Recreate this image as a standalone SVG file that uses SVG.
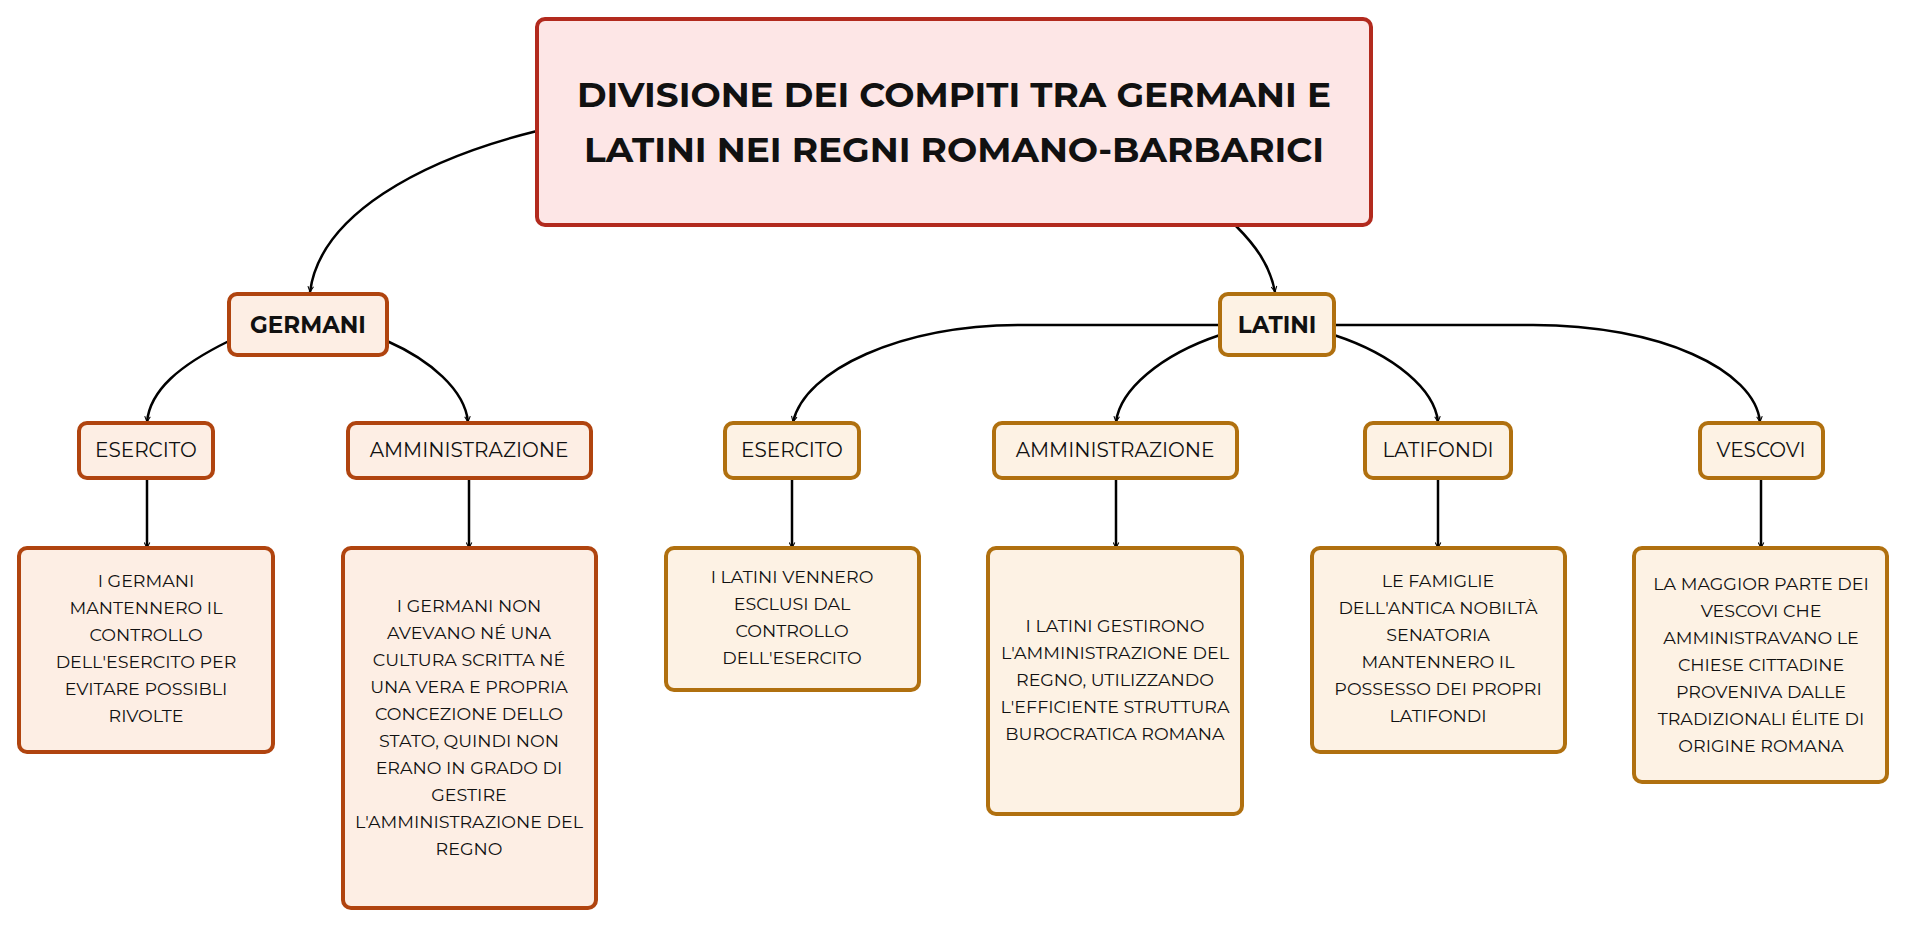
<svg xmlns="http://www.w3.org/2000/svg" width="1908" height="928" viewBox="0 0 1908 928">
<defs>
<marker id="ah" viewBox="0 0 10 10" refX="9" refY="5" markerWidth="7" markerHeight="7" orient="auto" markerUnits="userSpaceOnUse"><path d="M1,1 L9,5 L1,9" fill="none" stroke="#000" stroke-width="1.5"/></marker>
<style>
.g rect{fill:#fdeee4;stroke:#b0440f;stroke-width:4}
.l rect{fill:#fdf2e4;stroke:#b0700f;stroke-width:4}
text{font-family:"Montserrat","Open Sans","Liberation Sans",sans-serif;fill:#111;text-anchor:middle;dominant-baseline:central}
.h{font-size:23px;font-weight:bold}
.s{font-size:20px}
.t{font-size:17.5px}
#conn path{fill:none;stroke:#000;stroke-width:2.5;marker-end:url(#ah)}
</style>
</defs>
<g id="conn">
<path d="M537,131 C420,160 320,215 310,292"/>
<path d="M1236,226 C1255,245 1270,265 1275,292"/>
<path d="M229,341 C180,365 150,390 147,422"/>
<path d="M387,341 C430,360 465,390 468,422"/>
<path d="M1220,325 L1022,325 C900,325 805,370 793,422"/>
<path d="M1220,335 C1160,355 1120,390 1116,422"/>
<path d="M1334,335 C1395,355 1435,390 1438,422"/>
<path d="M1334,325 L1533,325 C1660,325 1755,370 1760,422"/>
<path d="M147,478 L147,548"/>
<path d="M469,478 L469,548"/>
<path d="M792,478 L792,548"/>
<path d="M1116,478 L1116,548"/>
<path d="M1438,478 L1438,548"/>
<path d="M1761,478 L1761,548"/>
</g>
<g id="root"><rect x="537" y="19" width="834" height="206" rx="8" fill="#fde6e6" stroke="#b22a1e" stroke-width="4"/>
<text x="954" y="95" font-size="34" font-weight="bold" textLength="754" lengthAdjust="spacingAndGlyphs">DIVISIONE DEI COMPITI TRA GERMANI E</text>
<text x="954" y="150" font-size="34" font-weight="bold" textLength="740" lengthAdjust="spacingAndGlyphs">LATINI NEI REGNI ROMANO-BARBARICI</text></g>
<g id="germani" class="g"><rect x="229" y="294" width="158" height="61" rx="8"/><text class="h" x="308" y="325">GERMANI</text></g>
<g id="latini" class="l"><rect x="1220" y="294" width="114" height="61" rx="8"/><text class="h" x="1277" y="325">LATINI</text></g>
<g id="g-eserc" class="g"><rect x="79" y="423" width="134" height="55" rx="8"/><text class="s" x="146" y="450">ESERCITO</text></g>
<g id="g-amm" class="g"><rect x="348" y="423" width="243" height="55" rx="8"/><text class="s" x="469" y="450">AMMINISTRAZIONE</text></g>
<g id="l-eserc" class="l"><rect x="725" y="423" width="134" height="55" rx="8"/><text class="s" x="792" y="450">ESERCITO</text></g>
<g id="l-amm" class="l"><rect x="994" y="423" width="243" height="55" rx="8"/><text class="s" x="1115" y="450">AMMINISTRAZIONE</text></g>
<g id="l-lat" class="l"><rect x="1365" y="423" width="146" height="55" rx="8"/><text class="s" x="1438" y="450">LATIFONDI</text></g>
<g id="l-vesc" class="l"><rect x="1700" y="423" width="123" height="55" rx="8"/><text class="s" x="1761" y="450">VESCOVI</text></g>
<g id="g1" class="g"><rect x="19" y="548" width="254" height="204" rx="8"/>
<text class="t" x="146" y="580">I GERMANI</text><text class="t" x="146" y="607">MANTENNERO IL</text><text class="t" x="146" y="634">CONTROLLO</text><text class="t" x="146" y="661">DELL'ESERCITO PER</text><text class="t" x="146" y="688">EVITARE POSSIBLI</text><text class="t" x="146" y="715">RIVOLTE</text></g>
<g id="g2" class="g"><rect x="343" y="548" width="253" height="360" rx="8"/>
<text class="t" x="469" y="605">I GERMANI NON</text><text class="t" x="469" y="632">AVEVANO NÉ UNA</text><text class="t" x="469" y="659">CULTURA SCRITTA NÉ</text><text class="t" x="469" y="686">UNA VERA E PROPRIA</text><text class="t" x="469" y="713">CONCEZIONE DELLO</text><text class="t" x="469" y="740">STATO, QUINDI NON</text><text class="t" x="469" y="767">ERANO IN GRADO DI</text><text class="t" x="469" y="794">GESTIRE</text><text class="t" x="469" y="821">L'AMMINISTRAZIONE DEL</text><text class="t" x="469" y="848">REGNO</text></g>
<g id="l1" class="l"><rect x="666" y="548" width="253" height="142" rx="8"/>
<text class="t" x="792" y="576">I LATINI VENNERO</text><text class="t" x="792" y="603">ESCLUSI DAL</text><text class="t" x="792" y="630">CONTROLLO</text><text class="t" x="792" y="657">DELL'ESERCITO</text></g>
<g id="l2" class="l"><rect x="988" y="548" width="254" height="266" rx="8"/>
<text class="t" x="1115" y="625">I LATINI GESTIRONO</text><text class="t" x="1115" y="652">L'AMMINISTRAZIONE DEL</text><text class="t" x="1115" y="679">REGNO, UTILIZZANDO</text><text class="t" x="1115" y="706">L'EFFICIENTE STRUTTURA</text><text class="t" x="1115" y="733">BUROCRATICA ROMANA</text></g>
<g id="l3" class="l"><rect x="1312" y="548" width="253" height="204" rx="8"/>
<text class="t" x="1438" y="580">LE FAMIGLIE</text><text class="t" x="1438" y="607">DELL'ANTICA NOBILTÀ</text><text class="t" x="1438" y="634">SENATORIA</text><text class="t" x="1438" y="661">MANTENNERO IL</text><text class="t" x="1438" y="688">POSSESSO DEI PROPRI</text><text class="t" x="1438" y="715">LATIFONDI</text></g>
<g id="l4" class="l"><rect x="1634" y="548" width="253" height="234" rx="8"/>
<text class="t" x="1761" y="583">LA MAGGIOR PARTE DEI</text><text class="t" x="1761" y="610">VESCOVI CHE</text><text class="t" x="1761" y="637">AMMINISTRAVANO LE</text><text class="t" x="1761" y="664">CHIESE CITTADINE</text><text class="t" x="1761" y="691">PROVENIVA DALLE</text><text class="t" x="1761" y="718">TRADIZIONALI ÉLITE DI</text><text class="t" x="1761" y="745">ORIGINE ROMANA</text></g>
</svg>
